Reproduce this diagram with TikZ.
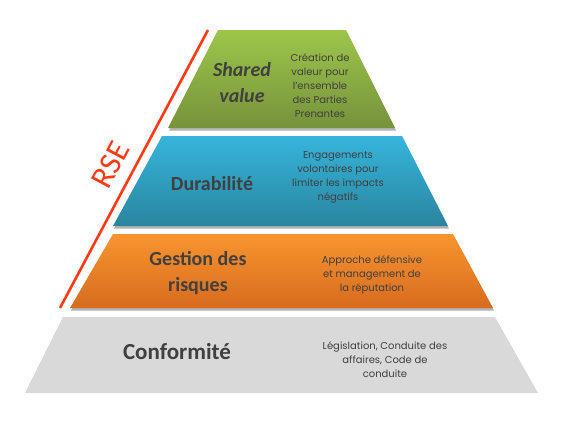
\documentclass[tikz,border=0pt]{standalone}
\usepackage{fontspec}
\setmainfont{Carlito}
\newfontfamily\descfont{Poppins}
\usetikzlibrary{shadows}
\definecolor{greentop}{HTML}{9DC64B}
\definecolor{greenbot}{HTML}{76923B}
\definecolor{bluetop}{HTML}{35B5DB}
\definecolor{bluebot}{HTML}{2A859F}
\definecolor{orangetop}{HTML}{F8952F}
\definecolor{orangebot}{HTML}{D76B1F}
\definecolor{baselayer}{HTML}{D9D9D9}
\definecolor{rsered}{HTML}{FF3A12}
\definecolor{txtgray}{HTML}{404040}

\begin{document}
\begin{tikzpicture}[x=1pt, y=-1pt,
  layer/.style={drop shadow={shadow xshift=1pt, shadow yshift=-2.5pt, fill=black, opacity=.3}},
  title/.style={font=\fontsize{20}{26}\selectfont\bfseries, text=txtgray, align=center},
  desc/.style={font=\descfont\fontsize{10}{14}\selectfont, text=txtgray, align=center},
  rseline/.style={draw=rsered, line width=2.6pt},
  rsetext/.style={font=\fontsize{32}{32}\selectfont, text=rsered, rotate=62, inner sep=0pt}]
\useasboundingbox (0,0) rectangle (584,424);

\shade[layer, top color=greentop, bottom color=greenbot] (218,30) -- (346,30) -- (395,128) -- (168,128) -- cycle;
\shade[layer, top color=bluetop, bottom color=bluebot] (162,136) -- (402,136) -- (448,226) -- (113,226) -- cycle;
\shade[layer, top color=orangetop, bottom color=orangebot] (113,234) -- (453,234) -- (493,308) -- (70,308) -- cycle;
\fill[baselayer] (63,317) -- (495,317) -- (538,393) -- (25,393) -- cycle;

\node[title, font=\fontsize{20}{26}\selectfont\bfseries\itshape] (shared) at (242,83) {Shared\\value};
\node[desc] (shareddesc) at (320,86) {Création de\\valeur pour\\l’ensemble\\des Parties\\Prenantes};
\node[title] (durab) at (212,184) {Durabilité};
\node[desc] (durabdesc) at (338,177) {Engagements\\volontaires pour\\limiter les impacts\\négatifs};
\node[title] (risques) at (198,273) {Gestion des\\risques};
\node[desc] (risquesdesc) at (372,275) {Approche défensive\\et management de\\la réputation};
\node[title, font=\fontsize{23}{26}\selectfont\bfseries] (conform) at (177,352) {Conformité};
\node[desc] (conformdesc) at (385,360) {Législation, Conduite des\\affaires, Code de\\conduite};

\coordinate (rsetop) at (208,30);
\coordinate (rsebot) at (60,308);
\draw[rseline] (rsetop) -- (rsebot);
\node[rsetext] (rse) at (111,165) {RSE};
\end{tikzpicture}
\end{document}
